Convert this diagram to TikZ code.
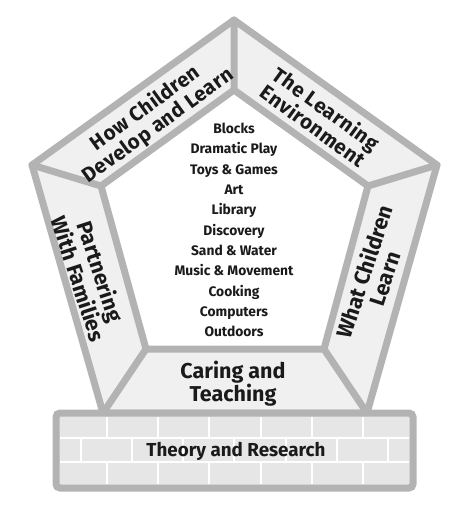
\documentclass[tikz,border=0pt]{standalone}
\usepackage{fontspec}
\setmainfont{Fira Sans}
\begin{document}
\begin{tikzpicture}[x=1pt,y=-1pt]
\definecolor{edgegray}{HTML}{B3B3B3}
\definecolor{bandgray}{HTML}{F0F0F0}
\definecolor{brickgray}{HTML}{E6E6E6}
\definecolor{ink}{HTML}{1A1A1A}
\tikzset{
  frame/.style={draw=edgegray,line width=7pt,line join=round,line cap=round},
  bandlabel/.style={font=\bfseries\fontsize{21.5}{21.5}\selectfont,align=center,text=ink,inner sep=0pt},
  spaced/.style={font=\bfseries\fontsize{20.5}{21.5}\selectfont\addfontfeatures{LetterSpace=2.5}},
  listlabel/.style={font=\bfseries\fontsize{13.8}{20.3}\selectfont,align=center,text=ink,inner sep=0pt},
  mortar/.style={draw=white,line width=2pt},
}
\useasboundingbox (0,0) rectangle (462,506);
% outer pentagon
\coordinate (T) at (234,20);
\coordinate (UL) at (32,165);
\coordinate (UR) at (437,165);
\coordinate (LL) at (103,413);
\coordinate (LR) at (367,413);
% inner pentagon
\coordinate (IT) at (234,90);
\coordinate (IUL) at (101,186);
\coordinate (IUR) at (368,186);
\coordinate (ILL) at (146,349);
\coordinate (ILR) at (324,349);
\fill[bandgray] (T) -- (UR) -- (LR) -- (LL) -- (UL) -- cycle;
\fill[white] (IT) -- (IUR) -- (ILR) -- (ILL) -- (IUL) -- cycle;
\draw[frame] (T) -- (UR) -- (LR) -- (LL) -- (UL) -- cycle;
\draw[frame] (IT) -- (IUR) -- (ILR) -- (ILL) -- (IUL) -- cycle;
\draw[frame] (T) -- (IT) (UL) -- (IUL) (UR) -- (IUR) (LL) -- (ILL) (LR) -- (ILR);
% brick wall
\fill[brickgray,rounded corners=4pt] (56,413) rectangle (413,488);
\draw[mortar] (60,438) -- (409,438) (60,462) -- (409,462);
\foreach \x in {107,158,209,261,312,363}{
  \draw[mortar] (\x,417) -- (\x,438);
  \draw[mortar] (\x,462) -- (\x,484);
}
\foreach \x in {81,132,183,234,286,337,388}{
  \draw[mortar] (\x,438) -- (\x,462);
}
\draw[draw=edgegray,line width=7pt,rounded corners=4pt] (56,413) rectangle (413,488);
% labels
\node[bandlabel,spaced,rotate=36] (develop) at (152,117) {How Children\\Develop and Learn};
\node[bandlabel,spaced,rotate=-36] (environment) at (320,117) {The Learning\\Environment};
\node[bandlabel,rotate=-72] (families) at (90,275) {Partnering\\With Families};
\node[bandlabel,rotate=72] (what) at (374,275) {What Children\\Learn};
\node[bandlabel] (caring) at (233,384) {Caring and\\Teaching};
\node[bandlabel,font=\bfseries\fontsize{18.8}{20}\selectfont] (theory) at (236,451) {Theory and Research};
\node[listlabel] (areas) at (234,230) {Blocks\\Dramatic Play\\Toys \& Games\\Art\\Library\\Discovery\\Sand \& Water\\Music \& Movement\\Cooking\\Computers\\Outdoors};
\end{tikzpicture}
\end{document}
